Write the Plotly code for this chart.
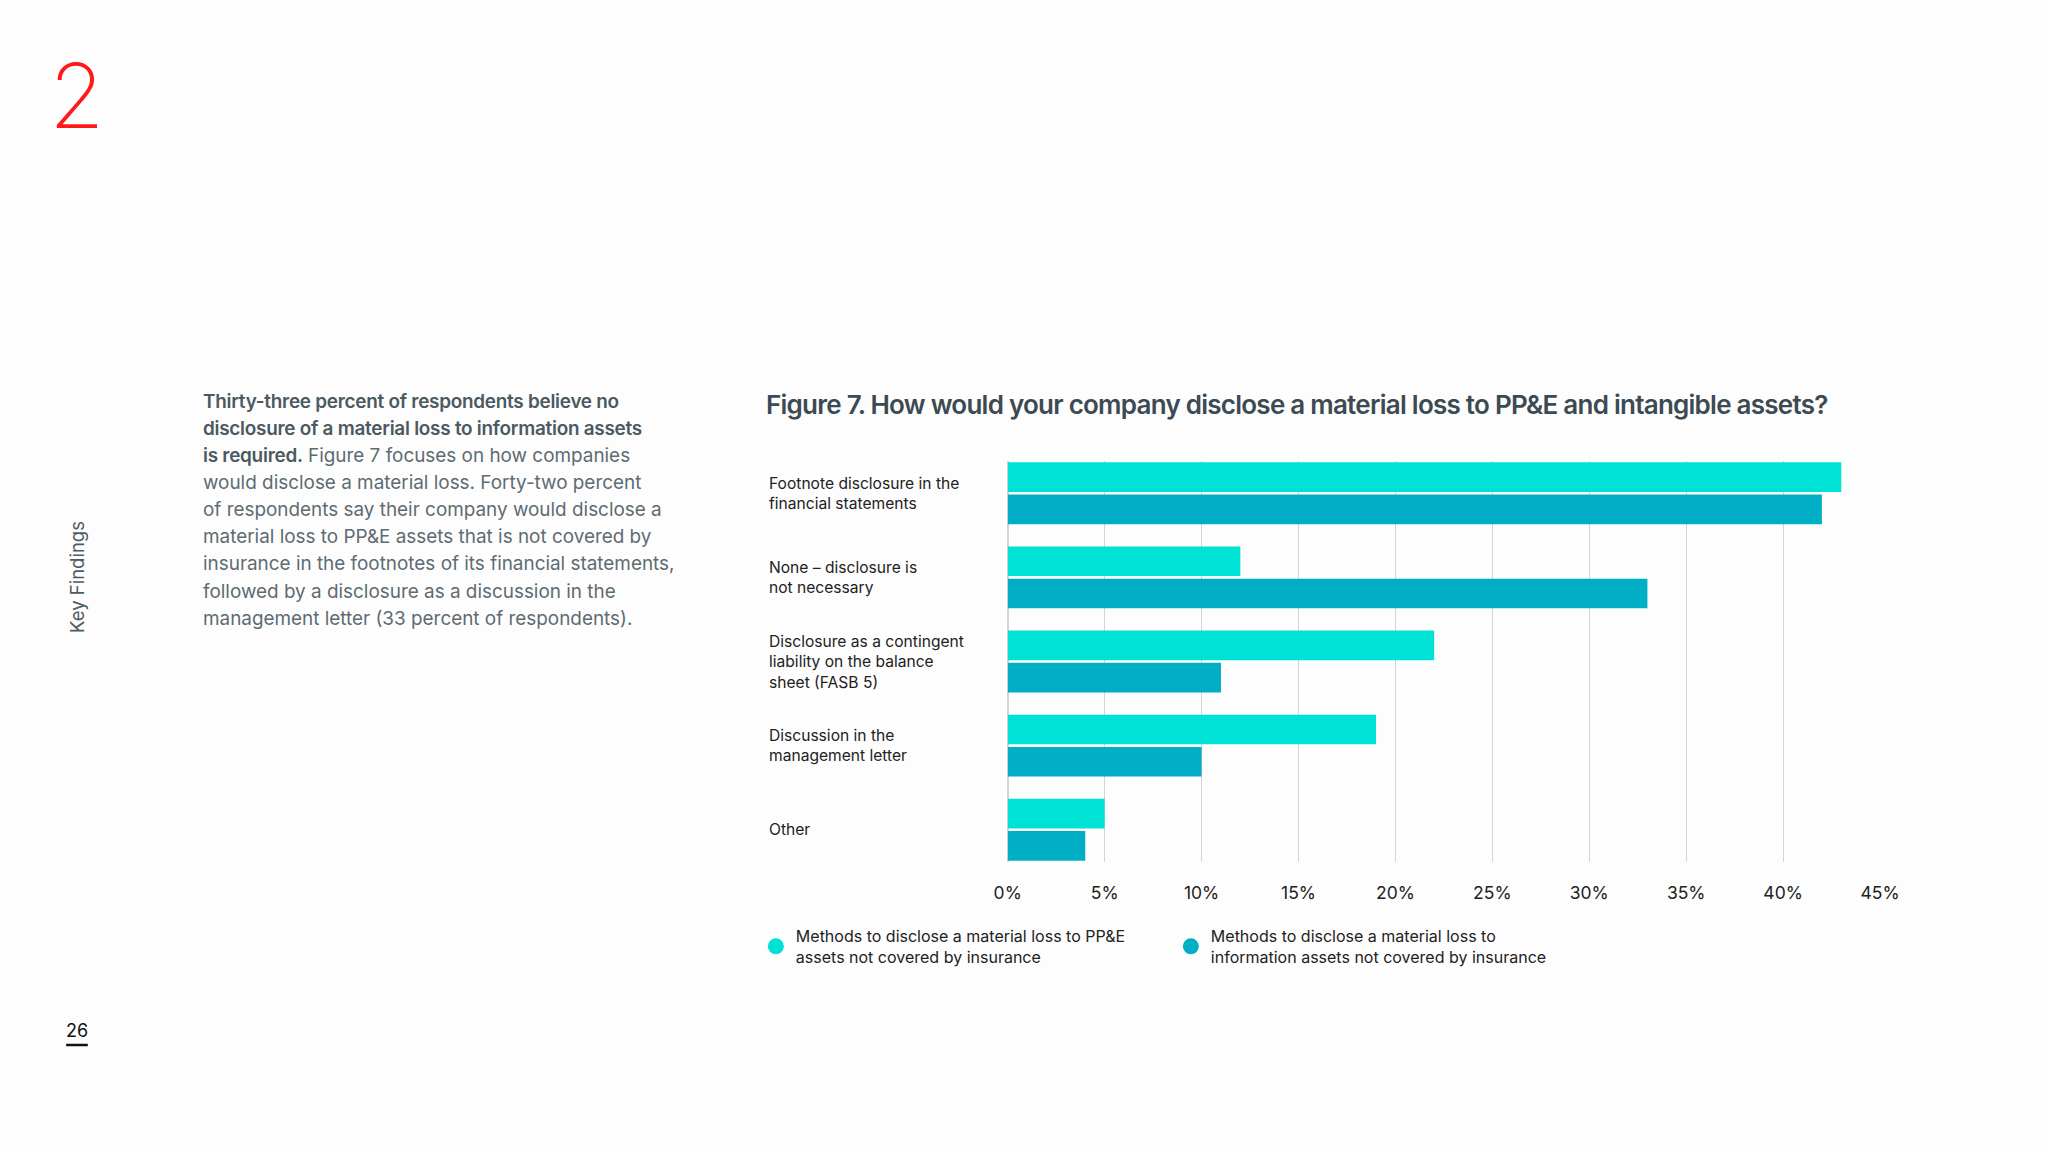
import plotly.graph_objects as go

# chart data
categories = [
    "Footnote disclosure in the<br>financial statements",
    "None – disclosure is<br>not necessary",
    "Disclosure as a contingent<br>liability on the balance<br>sheet (FASB 5)",
    "Discussion in the<br>management letter",
    "Other",
]
ppe_values = [43, 12, 22, 19, 5]
info_values = [42, 33, 11, 10, 4]
series_names = [
    "Methods to disclose a material loss to PP&E<br>assets not covered by insurance",
    "Methods to disclose a material loss to<br>information assets not covered by insurance",
]
tick_values = [0, 5, 10, 15, 20, 25, 30, 35, 40, 45]
tick_labels = [f"{v}%" for v in tick_values]

B = '<span style="font-weight:600;letter-spacing:-0.25px;fill:#4b5961">'
paragraph_lines = [
    B + "Thirty-three percent of respondents believe no</span>",
    B + "disclosure of a material loss to information assets</span>",
    B + "is required.</span> Figure 7 focuses on how companies",
    "would disclose a material loss. Forty-two percent",
    "of respondents say their company would disclose a",
    "material loss to PP&E assets that is not covered by",
    "insurance in the footnotes of its financial statements,",
    "followed by a disclosure as a discussion in the",
    "management letter (33 percent of respondents).",
]
title_text = "Figure 7. How would your company disclose a material loss to PP&E and intangible assets?"

light = "#00E2D6"
dark = "#00AFC5"
font = "Inter, Roboto, Arial, sans-serif"
W, H = 2048, 1152

fig = go.Figure()

# bars
fig.add_trace(go.Bar(y=categories, x=ppe_values, orientation="h", marker=dict(color=light, line_width=0),
                     showlegend=False, hoverinfo="x"))
fig.add_trace(go.Bar(y=categories, x=info_values, orientation="h", marker=dict(color=dark, line_width=0),
                     showlegend=False, hoverinfo="x"))

# round legend markers
for name, color in zip(series_names, [light, dark]):
    fig.add_trace(go.Scatter(x=[None], y=[None], mode="markers", name=name,
                             marker=dict(color=color, size=17, symbol="circle")))

# category labels, left aligned
for cat in categories:
    fig.add_annotation(x=765 / W, xref="paper", y=cat, yref="y", text=cat, showarrow=False,
                       xanchor="left", yanchor="middle", align="left",
                       font=dict(family=font, size=15.6, color="#222222"))

# left-hand paragraph
for i, line in enumerate(paragraph_lines):
    fig.add_annotation(x=190 / W, xref="paper", y=1 - (402 + i * 27) / H, yref="paper", text=line,
                       showarrow=False, xanchor="left", yanchor="middle",
                       font=dict(family=font, size=18.9, color="#5d6b72"))

# page decorations
fig.add_annotation(x=34 / W, xref="paper", y=1 - 95 / H, yref="paper", text="2", showarrow=False,
                   xanchor="left", yanchor="middle", font=dict(family=font, size=90, color="#ff1a1a", weight=200))
fig.add_annotation(x=64 / W, xref="paper", y=1 - 577 / H, yref="paper", text="Key Findings", showarrow=False,
                   textangle=-90, xanchor="center", yanchor="middle",
                   font=dict(family=font, size=18.5, color="#4d5c63"))
fig.add_annotation(x=64 / W, xref="paper", y=1 - 1030 / H, yref="paper", text="26", showarrow=False,
                   xanchor="center", yanchor="middle", font=dict(family=font, size=18, color="#111111"))
fig.add_shape(type="line", xref="paper", yref="paper", x0=53 / W, x1=75 / W, y0=1 - 1045 / H, y1=1 - 1045 / H,
              line=dict(color="#111111", width=2.5))

fig.update_layout(
    width=W,
    height=H,
    margin=dict(l=0, r=0, t=0, b=0),
    paper_bgcolor="#fdfdfd",
    plot_bgcolor="#fdfdfd",
    barmode="group",
    bargap=0.234,
    bargroupgap=0.08,
    title=dict(
        text='<span style="letter-spacing:-0.75px">' + title_text + "</span>",
        x=766 / W, xanchor="left", y=1 - 405 / H, yanchor="middle",
        font=dict(family=font, size=26, color="#3c4a53", weight=600),
    ),
    xaxis=dict(
        domain=[1010 / W, 1897 / W],
        range=[0, 45.02],
        tickvals=tick_values,
        ticktext=tick_labels,
        showgrid=True,
        gridcolor="#d4d4d4",
        gridwidth=1,
        zeroline=True,
        zerolinecolor="#d4d4d4",
        showline=False,
        ticks="",
        ticklabelstandoff=18,
        tickfont=dict(family=font, size=17.5, color="#222222"),
        fixedrange=True,
    ),
    yaxis=dict(
        domain=[1 - 862 / H, 1 - 461 / H],
        range=[4.383, -0.383],
        showticklabels=False,
        showgrid=False,
        zeroline=False,
        ticks="",
        fixedrange=True,
    ),
    legend=dict(
        orientation="h",
        x=754 / W,
        xanchor="left",
        y=1 - 919 / H,
        yanchor="top",
        entrywidth=370,
        font=dict(family=font, size=16, color="#222222"),
        bgcolor="rgba(0,0,0,0)",
        itemclick=False,
    ),
    showlegend=True,
)

# drop the default body margin so the 2048x1152 figure fills the window exactly
fig.write_html("out.html", config={"displayModeBar": False},
               post_script="document.body.style.margin='0';")
